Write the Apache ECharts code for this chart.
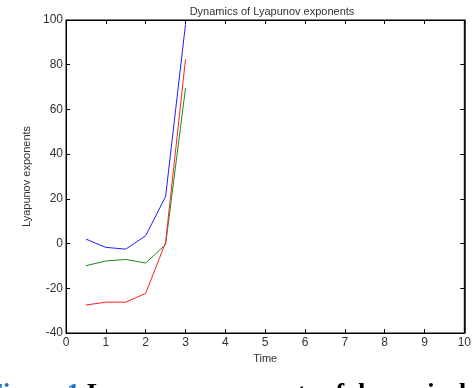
<!DOCTYPE html>
<html>
<head>
<meta charset="utf-8">
<style>html,body{margin:0;padding:0;background:#fff;}#c{width:474px;height:388px;}</style>
<script src="https://cdn.jsdelivr.net/npm/echarts@6/dist/echarts.min.js"></script>
</head>
<body>
<div id="c"></div>
<script>
var times = [0.5, 1, 1.5, 2, 2.5, 3];
var blueVals = [2, -1.7, -2.5, 3.5, 21, 98];
var greenVals = [-9.9, -7.8, -7.1, -8.7, -0.5, 69.5];
var redVals = [-27.5, -26.2, -26.2, -22.3, 0.5, 82.4];
var xTicks = [0, 1, 2, 3, 4, 5, 6, 7, 8, 9, 10];
var yTicks = [-40, -20, 0, 20, 40, 60, 80, 100];

function pairs(xs, ys) { return xs.map(function (x, i) { return [x, ys[i]]; }); }

var chart = echarts.init(document.getElementById('c'), null, {renderer: 'canvas'});
var lbl = {color: '#333', fontSize: 12, fontFamily: 'Liberation Sans, Arial, sans-serif'};
var tickStyle = {show: true, inside: true, length: 4, lineStyle: {color: '#000', width: 1}};
chart.setOption({
  animation: false,
  backgroundColor: '#fff',
  title: {
    text: 'Dynamics of Lyapunov exponents',
    left: 267, top: 1, textAlign: 'center',
    textStyle: {fontSize: 11, fontWeight: 'normal', color: '#333', fontFamily: 'Liberation Sans, Arial, sans-serif'}
  },
  grid: {left: 66, right: 6, top: 20, bottom: 55, show: true, borderColor: '#000', borderWidth: 1},
  xAxis: [{
    type: 'value', min: 0, max: 10, interval: 1, position: 'bottom',
    name: 'Time', nameLocation: 'middle', nameGap: 19,
    nameTextStyle: {fontSize: 11, color: '#333', fontFamily: 'Liberation Sans, Arial, sans-serif'},
    axisLine: {show: true, onZero: false, lineStyle: {color: '#000'}},
    axisTick: tickStyle,
    axisLabel: Object.assign({margin: 4, formatter: function (v) { return xTicks.indexOf(v) >= 0 ? String(v) : ''; }}, lbl),
    splitLine: {show: false}
  }, {
    type: 'value', min: 0, max: 10, interval: 1, position: 'top',
    axisLine: {show: true, onZero: false, lineStyle: {color: '#000'}},
    axisTick: tickStyle, axisLabel: {show: false}, splitLine: {show: false}
  }],
  yAxis: [{
    type: 'value', min: -40, max: 100, interval: 20, position: 'left',
    name: 'Lyapunov exponents', nameLocation: 'middle', nameGap: 20, nameRotate: 90,
    nameTextStyle: {fontSize: 11, color: '#333', fontFamily: 'Liberation Sans, Arial, sans-serif'},
    axisLine: {show: true, onZero: false, lineStyle: {color: '#000'}},
    axisTick: tickStyle,
    axisLabel: Object.assign({margin: 3, formatter: function (v) { return yTicks.indexOf(v) >= 0 ? String(v) : ''; }}, lbl),
    splitLine: {show: false}
  }, {
    type: 'value', min: -40, max: 100, interval: 20, position: 'right',
    axisLine: {show: true, onZero: false, lineStyle: {color: '#000', width: 1.5}},
    axisTick: tickStyle, axisLabel: {show: false}, splitLine: {show: false}
  }],
  series: [
    {type: 'line', data: pairs(times, blueVals), showSymbol: false, lineStyle: {color: '#2020ff', width: 1}, itemStyle: {color: '#2020ff'}},
    {type: 'line', data: pairs(times, greenVals), showSymbol: false, lineStyle: {color: '#1a8a1a', width: 1}, itemStyle: {color: '#1a8a1a'}},
    {type: 'line', data: pairs(times, redVals), showSymbol: false, lineStyle: {color: '#ff2020', width: 1}, itemStyle: {color: '#ff2020'}}
  ],
  graphic: [
    {type: 'text', left: -13, top: 381, style: {text: 'Figure 1', fill: '#1a6fc0', font: 'bold 26px "Liberation Serif", "Times New Roman", serif'}},
    {type: 'text', left: 87, top: 381, style: {text: 'Lyapunov exponents of dynamical', fill: '#000', font: 'bold 26px "Liberation Serif", "Times New Roman", serif'}}
  ]
});
</script>
</body>
</html>
